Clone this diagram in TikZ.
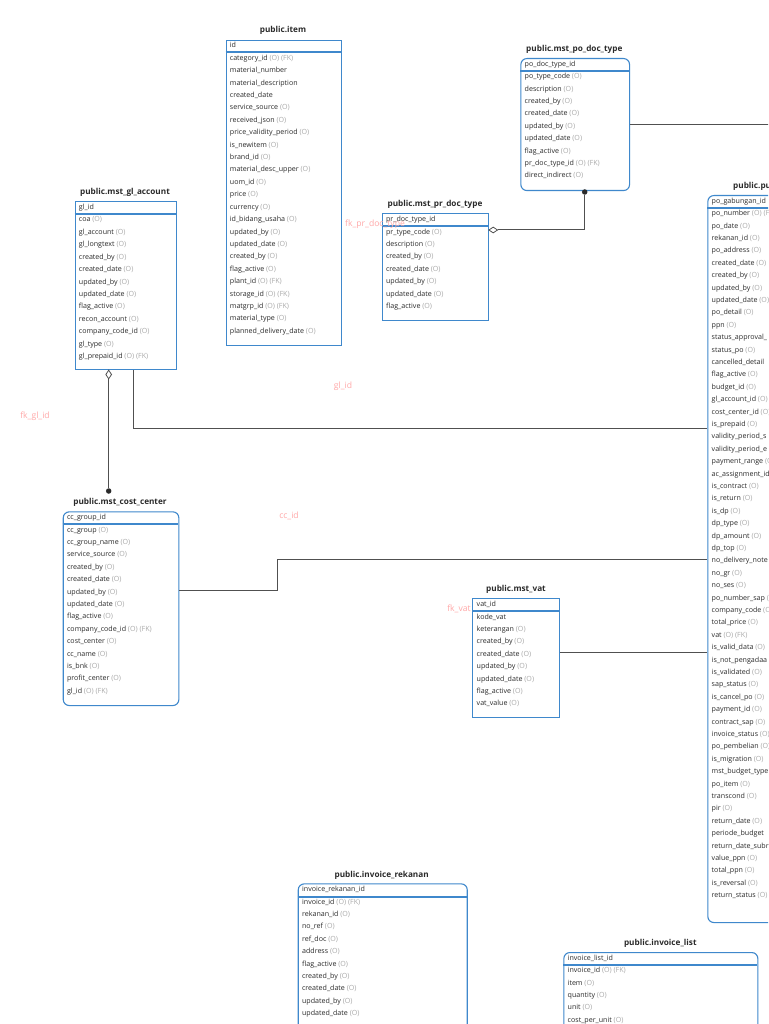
\documentclass[tikz,border=0pt]{standalone}
\usepackage{fontspec}
\setmainfont{Open Sans}
\usetikzlibrary{shapes.geometric}
\catcode`\_=12
\definecolor{boxblue}{HTML}{3F88CC}
\definecolor{rowtext}{HTML}{2A2A2A}
\definecolor{flagtext}{HTML}{ABABAB}
\definecolor{linkdark}{HTML}{505050}
\definecolor{fkpink}{HTML}{FFA8A8}
\def\flagO{(O)}
\def\flagF{(O) (FK)}
\def\flagN{}
\tikzset{
  tblframe/.style={draw=boxblue,line width=1.1pt,inner sep=0,anchor=north west},
  sharp/.style={},
  curved/.style={rounded corners=6pt},
  tblhead/.style={draw=boxblue,line width=2pt},
  tblrow/.style={anchor=base west,inner sep=0,font=\fontsize{7.1}{8}\selectfont},
  tbltitle/.style={inner sep=0,anchor=base,text=rowtext,font=\fontsize{8.2}{9}\selectfont\bfseries},
  rel/.style={draw=linkdark,line width=1pt},
  opendiamond/.style={diamond,draw=linkdark,fill=white,line width=.8pt,inner sep=0},
  dotend/.style={circle,fill=rowtext,inner sep=0,minimum size=5.5pt},
  fklabel/.style={inner sep=0,text=fkpink,font=\fontsize{8.6}{9}\selectfont},
}
% name, x0, y0, x1, y1, header-line y, corner style, rows
\newcommand{\erdtable}[8]{%
  \pgfmathsetmacro{\tw}{#4-#2}%
  \pgfmathsetmacro{\th}{#5-#3}%
  \node[tblframe,#7,minimum width=\tw pt,minimum height=\th pt] (#1) at (#2,#3) {};
  \draw[tblhead] (#2,#6) -- (#4,#6);
  \foreach \a/\b [count=\i] in {#8}{
    \pgfmathsetmacro{\ry}{#3+8.3+12.4*(\i-1)}
    \node[tblrow] (#1-\i) at (#2+4.2,\ry) {\textcolor{rowtext}{\a} \textcolor{flagtext}{\csname flag\b\endcsname}};
  }
}
\begin{document}
\begin{tikzpicture}[x=1pt,y=-1pt]
\useasboundingbox (0,0) rectangle (768,1024);
\clip (0,0) rectangle (768,1024);
\fill[white] (0,0) rectangle (768,1024);

\erdtable{item}{225.5}{39.7}{340.6}{344.7}{52.3}{sharp}{id/N,category_id/F,material_number/N,material_description/N,created_date/N,service_source/O,received_json/O,price_validity_period/O,is_newitem/O,brand_id/O,material_desc_upper/O,uom_id/O,price/O,currency/O,id_bidang_usaha/O,updated_by/O,updated_date/O,created_by/O,flag_active/O,plant_id/F,storage_id/F,matgrp_id/F,material_type/O,planned_delivery_date/O}
\node[tbltitle] (itemt) at (283,33) {public.item};

\erdtable{gl}{74.5}{201.3}{176.3}{369.3}{213.7}{sharp}{gl_id/N,coa/O,gl_account/O,gl_longtext/O,created_by/O,created_date/O,updated_by/O,updated_date/O,flag_active/O,recon_account/O,company_code_id/O,gl_type/O,gl_prepaid_id/F}
\node[tbltitle] (glt) at (125,194.3) {public.mst_gl_account};

\erdtable{podoc}{520.3}{58}{629}{190}{71}{curved}{po_doc_type_id/N,po_type_code/O,description/O,created_by/O,created_date/O,updated_by/O,updated_date/O,flag_active/O,pr_doc_type_id/F,direct_indirect/O}
\node[tbltitle] (podoct) at (574.3,52) {public.mst_po_doc_type};

\erdtable{prdoc}{381.7}{213.3}{488.3}{320.3}{226.3}{sharp}{pr_doc_type_id/N,pr_type_code/O,description/O,created_by/O,created_date/O,updated_by/O,updated_date/O,flag_active/O}
\node[tbltitle] (prdoct) at (435,206.7) {public.mst_pr_doc_type};

\erdtable{po}{707.3}{195}{900}{922}{208.3}{curved}{po_gabungan_id/N,po_number/F,po_date/O,rekanan_id/O,po_address/O,created_date/O,created_by/O,updated_by/O,updated_date/O,po_detail/O,ppn/O,status_approval_/N,status_po/O,cancelled_detail/N,flag_active/O,budget_id/O,gl_account_id/O,cost_center_id/O,is_prepaid/O,validity_period_s/N,validity_period_e/N,payment_range/O,ac_assignment_id/N,is_contract/O,is_return/O,is_dp/O,dp_type/O,dp_amount/O,dp_top/O,no_delivery_note/N,no_gr/O,no_ses/O,po_number_sap/O,company_code/O,total_price/O,vat/F,is_valid_data/O,is_not_pengadaa/N,is_validated/O,sap_status/O,is_cancel_po/O,payment_id/O,contract_sap/O,invoice_status/O,po_pembelian/O,is_migration/O,mst_budget_type/N,po_item/O,transcond/O,pir/O,return_date/O,periode_budget/N,return_date_subr/N,value_ppn/O,total_ppn/O,is_reversal/O,return_status/O}
\node[tbltitle,anchor=base west] (pot) at (733,188.3) {public.pu};

\erdtable{cc}{62.7}{511.3}{178.3}{705}{524.3}{curved}{cc_group_id/N,cc_group/O,cc_group_name/O,service_source/O,created_by/O,created_date/O,updated_by/O,updated_date/O,flag_active/O,company_code_id/F,cost_center/O,cc_name/O,is_bnk/O,profit_center/O,gl_id/F}
\node[tbltitle] (cct) at (120,504.7) {public.mst_cost_center};

\erdtable{vat}{472.3}{598.3}{559.3}{717}{611}{sharp}{vat_id/N,kode_vat/N,keterangan/O,created_by/O,created_date/O,updated_by/O,updated_date/O,flag_active/O,vat_value/O}
\node[tbltitle] (vatt) at (516,591.7) {public.mst_vat};

\erdtable{rek}{297.7}{883.3}{466.7}{1100}{896.7}{curved}{invoice_rekanan_id/N,invoice_id/F,rekanan_id/O,no_ref/O,ref_doc/O,address/O,flag_active/O,created_by/O,created_date/O,updated_by/O,updated_date/O}
\node[tbltitle] (rekt) at (381.7,877) {public.invoice_rekanan};

\erdtable{inv}{563.3}{952}{757.3}{1100}{964.7}{curved}{invoice_list_id/N,invoice_id/F,item/O,quantity/O,unit/O,cost_per_unit/O}
\node[tbltitle] (invt) at (660.3,945) {public.invoice_list};

% relationship ends
\node[opendiamond,minimum width=9pt,minimum height=6pt,aspect=1.5] (dprdoc) at (493.2,230) {};
\node[dotend] (dpodoc) at (584.7,192) {};
\node[opendiamond,minimum width=6pt,minimum height=9pt,aspect=.67] (dgl) at (108.7,374.5) {};
\node[dotend] (dcc) at (108.7,491) {};
\coordinate (offright) at (790,124.3);

% relationships
\draw[rel] (dprdoc.east) -| (dpodoc.south);
\draw[rel] (dgl.south) -- (dcc.north);
\draw[rel] (podoc.east |- offright) -- (offright);
\draw[rel] (gl.south -| 133,0) |- (po.west |- 0,428.7);
\draw[rel] (cc.east |- 0,590) -- (277.3,590) |- (po.west |- 0,559);
\draw[rel] (vat.east |- 0,652) -- (po.west |- 0,652);

% constraint labels
\node[fklabel] (l1) at (375,224.5) {fk_pr_doc_type};
\node[fklabel] (l2) at (343,386) {gl_id};
\node[fklabel] (l3) at (35,416.7) {fk_gl_id};
\node[fklabel] (l4) at (289,516) {cc_id};
\node[fklabel] (l5) at (459,609) {fk_vat};
\end{tikzpicture}
\end{document}
